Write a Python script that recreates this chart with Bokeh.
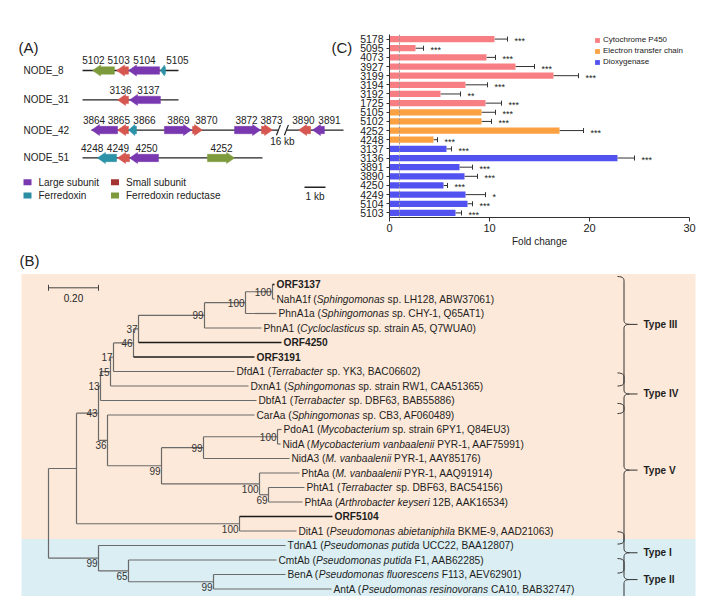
import math
from bokeh.plotting import figure
from bokeh.models import (Range1d, FactorRange, ColumnDataSource, Whisker, TeeHead, Span,
                          Legend, LegendItem)
from bokeh.layouts import column, row
from bokeh.embed import file_html
from bokeh.resources import INLINE
from bokeh.core.properties import value

FONT = "Liberation Sans"

# ---------------- Panel C data ----------------
c_genes = ["5178", "5095", "4073", "3927", "3199", "3194", "3192", "1725", "5105", "5102",
           "4252", "4248", "3137", "3136", "3891", "3890", "4250", "4249", "5104", "5103"]
c_fold = [10.5, 2.6, 9.7, 12.6, 16.4, 7.6, 5.1, 9.6, 9.2, 9.2,
          17.0, 4.4, 5.7, 22.8, 7.0, 7.5, 5.4, 7.6, 7.8, 6.6]
c_err = [1.3, 0.8, 0.9, 1.9, 2.5, 2.2, 2.0, 1.6, 1.4, 1.0,
         2.4, 0.4, 0.5, 1.7, 1.3, 1.3, 0.4, 2.0, 0.5, 0.6]
c_stars = ["***", "***", "***", "***", "***", "***", "**", "***", "***", "***",
           "***", "***", "***", "***", "***", "***", "***", "*", "***", "***"]
c_group = ["Cytochrome P450"] * 8 + ["Electron transfer chain"] * 4 + ["Dioxygenase"] * 8
c_group_names = ["Cytochrome P450", "Electron transfer chain", "Dioxygenase"]
c_group_colors = ["#f77f83", "#fba142", "#5252f0"]
c_ticks = [0, 10, 20, 30]
c_xlabel = "Fold change"

# ---------------- Panel A data ----------------
a_nodes = ["NODE_8", "NODE_31", "NODE_42", "NODE_51"]
a_node_start = [0.0, 0.0, 0.43, 0.0]
a_node_end = [4.57, 4.57, 12.43, 8.57]
a_break_node = "NODE_42"
a_break_at = [9.33, 9.71]
a_break_label = "16 kb"
a_gene_ids = ["5102", "5103", "5104", "5105",
              "3136", "3137",
              "3864", "3865", "3866", "3869", "3870", "3872", "3873", "3890", "3891",
              "4248", "4249", "4250", "4252"]
a_gene_node = ["NODE_8"] * 4 + ["NODE_31"] * 2 + ["NODE_42"] * 9 + ["NODE_51"] * 4
a_gene_start = [0.48, 1.62, 2.19, 3.71,
                1.67, 2.24,
                0.43, 1.67, 2.19, 3.90, 5.24, 7.24, 8.52, 10.29, 10.95,
                0.71, 1.67, 2.24, 5.95]
a_gene_end = [1.52, 2.19, 3.67, 3.95,
              2.19, 3.71,
              1.67, 2.19, 2.57, 5.19, 5.71, 8.48, 9.05, 10.86, 11.52,
              1.62, 2.24, 3.62, 7.24]
a_gene_strand = [-1, -1, -1, -1,
                 -1, -1,
                 -1, -1, -1, 1, 1, 1, 1, -1, -1,
                 -1, -1, -1, 1]
a_gene_type = ["Ferredoxin reductase", "Small subunit", "Large subunit", "Ferredoxin",
               "Small subunit", "Large subunit",
               "Large subunit", "Small subunit", "Ferredoxin", "Large subunit", "Small subunit",
               "Large subunit", "Small subunit", "Small subunit", "Large subunit",
               "Ferredoxin", "Small subunit", "Large subunit", "Ferredoxin reductase"]
a_gene_label_x = [0.52, 1.72, 2.95, 4.52,
                  1.81, 3.14,
                  0.55, 1.73, 2.95, 4.57, 5.90, 7.81, 9.00, 10.52, 11.76,
                  0.46, 1.69, 3.05, 6.62]
a_types = ["Large subunit", "Small subunit", "Ferredoxin", "Ferredoxin reductase"]
a_type_colors = ["#7a38b0", "#d65650", "#2c92a8", "#7d9b3c"]
a_legend_colors = ["#7a38b0", "#a33431", "#2c8ea3", "#7d9b3c"]
a_scale_kb = 1.0
a_scale_label = "1 kb"

# ---------------- Panel B data ----------------
b_leaf_labels = [
    [("ORF3137", "b")],
    [("NahA1f (", "n"), ("Sphingomonas", "i"), (" sp. LH128, ABW37061)", "n")],
    [("PhnA1a (", "n"), ("Sphingomonas", "i"), (" sp. CHY-1, Q65AT1)", "n")],
    [("PhnA1 (", "n"), ("Cycloclasticus", "i"), (" sp. strain A5, Q7WUA0)", "n")],
    [("ORF4250", "b")],
    [("ORF3191", "b")],
    [("DfdA1 (", "n"), ("Terrabacter", "i"), (" sp. YK3, BAC06602)", "n")],
    [("DxnA1 (", "n"), ("Sphingomonas", "i"), (" sp. strain RW1, CAA51365)", "n")],
    [("DbfA1 (", "n"), ("Terrabacter", "i"), (" sp. DBF63, BAB55886)", "n")],
    [("CarAa (", "n"), ("Sphingomonas", "i"), (" sp. CB3, AF060489)", "n")],
    [("PdoA1 (", "n"), ("Mycobacterium", "i"), (" sp. strain 6PY1, Q84EU3)", "n")],
    [("NidA (", "n"), ("Mycobacterium vanbaalenii", "i"), (" PYR-1, AAF75991)", "n")],
    [("NidA3 (", "n"), ("M. vanbaalenii", "i"), (" PYR-1, AAY85176)", "n")],
    [("PhtAa (", "n"), ("M. vanbaalenii", "i"), (" PYR-1, AAQ91914)", "n")],
    [("PhtA1 (", "n"), ("Terrabacter", "i"), (" sp. DBF63, BAC54156)", "n")],
    [("PhtAa (", "n"), ("Arthrobacter keyseri", "i"), (" 12B, AAK16534)", "n")],
    [("ORF5104", "b")],
    [("DitA1 (", "n"), ("Pseudomonas abietaniphila", "i"), (" BKME-9, AAD21063)", "n")],
    [("TdnA1 (", "n"), ("Pseudomonas putida", "i"), (" UCC22, BAA12807)", "n")],
    [("CmtAb (", "n"), ("Pseudomonas putida", "i"), (" F1, AAB62285)", "n")],
    [("BenA (", "n"), ("Pseudomonas fluorescens", "i"), (" F113, AEV62901)", "n")],
    [("AntA (", "n"), ("Pseudomonas resinovorans", "i"), (" CA10, BAB32747)", "n")],
]
b_leaf_depth = [0.904, 0.904, 0.912, 0.852, 0.932, 0.824, 0.744, 0.800, 0.832, 0.824,
                0.932, 0.928, 0.964, 1.004, 1.024, 1.016, 1.136, 0.992, 0.948, 0.912,
                0.948, 1.132]
b_node_ids = ["n1", "n2", "n3", "n4", "n5", "n6", "n7", "n8", "n9", "n10", "n11",
              "n12", "n13", "n14", "n15", "n16", "n17", "n18", "n19", "n20", "root"]
b_node_children = [(0, 1), ("n1", 2), ("n2", 3), ("n3", 4), ("n4", 5), ("n5", 6), ("n6", 7),
                   ("n7", 8), (10, 11), ("n9", 12), (14, 15), (13, "n11"), ("n10", "n12"),
                   (9, "n13"), ("n8", "n14"), (16, 17), ("n15", "n16"), (20, 21), (19, "n18"),
                   (18, "n19"), ("n17", "n20")]
b_node_depth = [0.896, 0.788, 0.624, 0.360, 0.340, 0.260, 0.248, 0.208, 0.916, 0.620, 0.880,
                0.844, 0.452, 0.236, 0.200, 0.764, 0.112, 0.660, 0.320, 0.200, 0.0]
b_node_support = ["100", "100", "99", "37", "46", "17", "15", "13", "100", "99", "69",
                  "100", "99", "36", "43", "100", "", "99", "65", "99", ""]
b_node_label_side = ["a", "a", "a", "a", "a", "a", "a", "a", "a", "a", "b",
                     "b", "b", "b", "a", "b", "a", "b", "b", "b", "a"]
b_bold_leaves = [0, 4, 5, 16]
b_scale = 0.20
b_types = ["Type III", "Type IV", "Type V", "Type I", "Type II"]
b_type_first = [0, 6.65, 8.75, 17.6, 19.45]
b_type_last = [6.45, 8.35, 17.35, 19.35, 21.2]
b_type_tip = [2.75, 7.55, 12.8, 18.5, 20.35]

# ---------------- helpers ----------------
W = {" ": 278, "(": 333, ")": 333, ",": 278, ".": 278, "-": 333, "_": 556, "/": 278}
for ch in "0123456789":
    W[ch] = 556
W.update(dict(zip("abcdefghijklmnopqrstuvwxyz",
                  [556, 556, 500, 556, 556, 278, 556, 556, 222, 222, 500, 222, 833, 556, 556,
                   556, 556, 333, 500, 278, 556, 500, 722, 500, 500, 500])))
W.update(dict(zip("ABCDEFGHIJKLMNOPQRSTUVWXYZ",
                  [667, 667, 722, 722, 667, 611, 778, 722, 278, 500, 667, 556, 833, 722, 778,
                   667, 778, 722, 667, 611, 722, 667, 944, 667, 667, 611])))


def text_w(s, size):
    return sum(W.get(c, 556) for c in s) / 1000.0 * size


def style_fig(p):
    p.outline_line_color = None
    p.background_fill_color = "white"
    p.border_fill_color = "white"
    return p


TOP_H = 249
A_W = 352
C_W = 352
B_H = 596 - TOP_H

# ================= Panel A =================
def kb(px):
    return (px - 82.0) / 21.0


pa = style_fig(figure(width=A_W, height=TOP_H, x_range=Range1d(kb(0), kb(A_W)), y_range=Range1d(TOP_H, 0),
                      x_axis_type=None, y_axis_type=None, toolbar_location=None,
                      output_backend="svg", min_border=0))
row_y = dict(zip(a_nodes, [49, 89, 130, 168]))

# backbone lines
sx0, sx1, sy = [], [], []
for n, s, e in zip(a_nodes, a_node_start, a_node_end):
    if n == a_break_node:
        sx0 += [s, a_break_at[1]]
        sx1 += [a_break_at[0], e]
        sy += [row_y[n]] * 2
    else:
        sx0.append(s)
        sx1.append(e)
        sy.append(row_y[n])
pa.segment(x0=sx0, y0=sy, x1=sx1, y1=sy, line_color="#222222", line_width=1.3)
by = row_y[a_break_node]
dx = 2.0 / 21
pa.segment(x0=[b - dx for b in a_break_at], y0=[by + 7] * 2, x1=[b + dx for b in a_break_at],
           y1=[by - 7] * 2, line_color="#222222", line_width=1.2)
pa.text(x=[sum(a_break_at) / 2], y=[by + 16], text=[a_break_label], text_font=value(FONT),
        text_font_size="10px", text_align="center", text_baseline="middle", text_color="#222222")

# gene arrows
col_of = dict(zip(a_types, a_type_colors))
xs, ys, cols = [], [], []
for gid, n, s, e, st, t in zip(a_gene_ids, a_gene_node, a_gene_start, a_gene_end, a_gene_strand, a_gene_type):
    y = row_y[n]
    L = e - s
    h = min(0.38, 0.8 * L)
    bh, hh = 5.0, 7.5
    if st < 0:
        px = [s, s + h, s + h, e, e, s + h, s + h]
    else:
        px = [e, e - h, e - h, s, s, e - h, e - h]
    py = [y, y - hh, y - bh, y - bh, y + bh, y + bh, y + hh]
    xs.append(px)
    ys.append(py)
    cols.append(col_of[t])
pa.patches(xs=xs, ys=ys, fill_color=cols, line_color=cols, line_width=0.5)
pa.text(x=a_gene_label_x, y=[row_y[n] - 14 for n in a_gene_node], text=a_gene_ids,
        text_font=value(FONT), text_font_size="10px", text_align="center", text_baseline="middle",
        text_color="#222222")
pa.text(x=[kb(23)] * 4, y=[row_y[n] for n in a_nodes], text=a_nodes, text_font=value(FONT),
        text_font_size="10px", text_align="left", text_baseline="middle", text_color="#222222")

# legend (A)
leg_x = [kb(27), kb(114.5), kb(27), kb(114.5)]
leg_y = [201, 201, 219, 219]
pa.rect(x=leg_x, y=leg_y, width=8 / 21.0, height=8, fill_color=a_legend_colors, line_color=None)
pa.text(x=[x + 11 / 21.0 for x in leg_x], y=leg_y, text=a_types, text_font=value(FONT),
        text_font_size="10px", text_align="left", text_baseline="middle", text_color="#222222")
# scale bar
sb0 = kb(304)
pa.segment(x0=[sb0], y0=[208], x1=[sb0 + a_scale_kb], y1=[208], line_color="#222222", line_width=1.5)
pa.text(x=[sb0 + a_scale_kb / 2], y=[220], text=[a_scale_label], text_font=value(FONT),
        text_font_size="10px", text_align="center", text_baseline="middle", text_color="#222222")
# panel letters
pa.text(x=[kb(18), kb(331)], y=[18, 18], text=["(A)", "(C)"], text_font=value(FONT),
        text_font_size="15px", text_align="left", text_baseline="middle", text_color="#222222")

# ================= Panel C =================
pc = style_fig(figure(width=C_W, height=TOP_H, y_range=FactorRange(factors=c_genes[::-1]),
                      x_range=Range1d(0, 30), toolbar_location=None, output_backend="svg",
                      min_border_left=389 - A_W, min_border_right=704 - 689, min_border_top=34,
                      min_border_bottom=TOP_H - 217))
pc.grid.visible = False
gcol = dict(zip(c_group_names, c_group_colors))
src = ColumnDataSource(dict(
    gene=c_genes, fold=c_fold, hi=[f + e for f, e in zip(c_fold, c_err)],
    star_x=[f + e + 0.7 for f, e in zip(c_fold, c_err)], stars=c_stars,
    group=c_group, color=[gcol[g] for g in c_group]))
bars = pc.hbar(y="gene", left=0, right="fold", height=0.68, fill_color="color", line_color=None,
               source=src)
pc.add_layout(Whisker(source=src, base="gene", lower="fold", upper="hi", dimension="width",
                      line_color="#333333", line_width=1, lower_head=None,
                      upper_head=TeeHead(size=5, line_color="#333333", line_width=1)))
pc.text(x="star_x", y="gene", text="stars", source=src, text_font=value(FONT), text_font_size="9px",
        text_align="left", text_baseline="middle", y_offset=2, text_color="#222222")
pc.add_layout(Span(location=1, dimension="height", line_color="#999999", line_dash="2 2", line_width=1))

pc.xaxis.ticker = c_ticks
pc.xaxis.axis_label = c_xlabel
for ax in (pc.xaxis[0], pc.yaxis[0]):
    ax.axis_line_color = "#333333"
    ax.major_tick_line_color = "#333333"
    ax.minor_tick_line_color = None
    ax.major_tick_in = 0
    ax.major_label_text_font = FONT
    ax.major_label_text_font_size = "10.5px"
    ax.major_label_text_color = "#222222"
pc.xaxis.major_label_text_font_size = "11px"
pc.xaxis.major_tick_out = 4
pc.xaxis.major_label_standoff = 2
pc.xaxis.axis_label_text_font = FONT
pc.xaxis.axis_label_text_font_size = "10px"
pc.xaxis.axis_label_text_font_style = "normal"
pc.xaxis.axis_label_text_color = "#222222"
pc.xaxis.axis_label_standoff = 1
pc.yaxis.major_tick_out = 3
pc.yaxis.major_label_standoff = 3

items = [LegendItem(label=g, renderers=[bars], index=c_group.index(g)) for g in c_group_names]
leg = Legend(items=items, location=(205, 151), glyph_width=6, glyph_height=6, label_height=9,
             label_width=10, spacing=2, padding=0, margin=0, label_standoff=3,
             border_line_color=None, background_fill_alpha=0, label_text_font=FONT,
             label_text_font_size="8px", label_text_color="#222222")
pc.add_layout(leg)

# ================= Panel B =================
ROW0, ROWH = 284.0, 14.5


def d(px):
    return (px - 48.0) / 250.0


def idx(py):
    return (py - ROW0) / ROWH


pb = style_fig(figure(width=704, height=B_H, x_range=Range1d(d(0), d(704)),
                      y_range=Range1d(idx(596), idx(TOP_H)), x_axis_type=None, y_axis_type=None,
                      toolbar_location=None, output_backend="svg", min_border=0))
# background bands
pb.quad(left=[d(21), d(21)], right=[d(695), d(695)], top=[-0.72, 17.55], bottom=[17.55, 21.9],
        fill_color=["#fde9d9", "#daeef3"], line_color=None)

node_depth = dict(zip(b_node_ids, b_node_depth))
node_children = dict(zip(b_node_ids, b_node_children))
ycache = {}


def ypos(k):
    if isinstance(k, int):
        return float(k)
    if k not in ycache:
        c1, c2 = node_children[k]
        ycache[k] = (ypos(c1) + ypos(c2)) / 2
    return ycache[k]


def xpos(k):
    return b_leaf_depth[k] if isinstance(k, int) else node_depth[k]


gx0, gy0, gx1, gy1 = [], [], [], []
kx0, ky0, kx1, ky1 = [], [], [], []
for nid in b_node_ids:
    c1, c2 = node_children[nid]
    nx = node_depth[nid]
    gx0.append(nx); gy0.append(ypos(c1)); gx1.append(nx); gy1.append(ypos(c2))
    for c in (c1, c2):
        if isinstance(c, int) and c in b_bold_leaves:
            kx0.append(nx); ky0.append(ypos(c)); kx1.append(xpos(c)); ky1.append(ypos(c))
        else:
            gx0.append(nx); gy0.append(ypos(c)); gx1.append(xpos(c)); gy1.append(ypos(c))
pb.segment(x0=gx0, y0=gy0, x1=gx1, y1=gy1, line_color="#6a6a6a", line_width=1.2)
pb.segment(x0=kx0, y0=ky0, x1=kx1, y1=ky1, line_color="#1a1a1a", line_width=1.6)

# bootstrap labels
ax_, ay_, at_ = [], [], []
bx_, by_, bt_ = [], [], []
for nid, sup, side in zip(b_node_ids, b_node_support, b_node_label_side):
    if not sup:
        continue
    if side == "a":
        ax_.append(node_depth[nid] - 1 / 250.0); ay_.append(ypos(nid)); at_.append(sup)
    else:
        bx_.append(node_depth[nid] - 1 / 250.0); by_.append(ypos(nid) + 1 / ROWH); bt_.append(sup)
pb.text(x=ax_, y=ay_, text=at_, text_font=value(FONT), text_font_size="10px", text_align="right",
        text_baseline="alphabetic", text_color="#333333")
pb.text(x=bx_, y=by_, text=bt_, text_font=value(FONT), text_font_size="10px", text_align="right",
        text_baseline="top", text_color="#333333")

# leaf labels (segments with mixed styles)
LF = 10.2
seg = {"n": ([], [], []), "i": ([], [], []), "b": ([], [], [])}
for i, parts in enumerate(b_leaf_labels):
    x = b_leaf_depth[i] + 2 / 250.0
    for txt, st in parts:
        core = txt.lstrip(" ")
        x += text_w(txt[:len(txt) - len(core)], LF) / 250.0
        seg[st][0].append(x); seg[st][1].append(float(i)); seg[st][2].append(core)
        x += text_w(core, LF) / 250.0
for st, fs in (("n", "normal"), ("i", "italic"), ("b", "bold")):
    pb.text(x=seg[st][0], y=seg[st][1], text=seg[st][2], text_font=value(FONT), text_font_size="%.1fpx" % LF,
            text_font_style=fs, text_align="left", text_baseline="middle", text_color="#1e1e1e")

# scale bar
sy_ = idx(287.3)
pb.segment(x0=[0, 0, b_scale], y0=[sy_, idx(284.3), idx(284.3)], x1=[b_scale, 0, b_scale],
           y1=[sy_, idx(290.3), idx(290.3)], line_color="#444444", line_width=1)
pb.text(x=[b_scale / 2], y=[idx(297.5)], text=["%.2f" % b_scale], text_font=value(FONT),
        text_font_size="10px", text_align="center", text_baseline="middle", text_color="#222222")
pb.text(x=[d(19)], y=[idx(260)], text=["(B)"], text_font=value(FONT), text_font_size="15px",
        text_align="left", text_baseline="middle", text_color="#222222")

# type braces
def qbez(p0, p1, p2, n=6):
    return [((1 - t) ** 2 * p0[0] + 2 * (1 - t) * t * p1[0] + t * t * p2[0],
             (1 - t) ** 2 * p0[1] + 2 * (1 - t) * t * p1[1] + t * t * p2[1])
            for t in [k / n for k in range(n + 1)]]


XE, XV, XT = 617.0, 623.5, 629.0
r = 4.0 / ROWH
bxs, bys = [], []
for f, l, tp in zip(b_type_first, b_type_last, b_type_tip):
    y0 = f - 0.55
    y1 = l + 0.55
    pts = qbez((XE, y0), (XV, y0), (XV, y0 + r))
    pts += qbez((XV, tp - r), (XV, tp), (XT, tp))
    pts += qbez((XT, tp), (XV, tp), (XV, tp + r))
    pts += qbez((XV, y1 - r), (XV, y1), (XE, y1))
    bxs.append([d(p[0]) for p in pts])
    bys.append([p[1] for p in pts])
pb.multi_line(xs=bxs, ys=bys, line_color="#333333", line_width=1)
pb.segment(x0=[d(XT)] * 5, y0=b_type_tip, x1=[d(637)] * 5, y1=b_type_tip, line_color="#333333", line_width=1)
pb.text(x=[d(643)] * 5, y=b_type_tip, text=b_types, text_font=value(FONT), text_font_size="10px",
        text_font_style="bold", text_align="left", text_baseline="middle", text_color="#1e1e1e")

layout = column(row(pa, pc), pb)
open("out.html", "w").write(file_html(layout, INLINE))
